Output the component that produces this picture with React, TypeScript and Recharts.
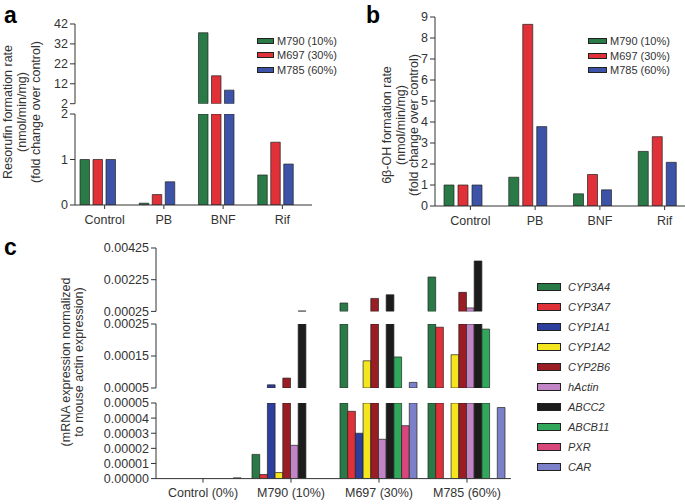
import { BarChart, Bar, XAxis, YAxis } from 'recharts'

const FONT = '"Liberation Sans", Arial, Helvetica, sans-serif'
const INK = '#333'

// panels a and b
const treatments = ['Control', 'PB', 'BNF', 'Rif']
const strainNames = ['M790 (10%)', 'M697 (30%)', 'M785 (60%)']
const strainColors = ['#2a7a48', '#e03038', '#3c53a8']

const resorufinM790 = [1, 0.04, 37.6, 0.66]
const resorufinM697 = [1, 0.23, 16, 1.38]
const resorufinM785 = [1, 0.51, 8.8, 0.9]

const hydroxyM790 = [1, 1.37, 0.58, 2.6]
const hydroxyM697 = [1, 8.65, 1.5, 3.3]
const hydroxyM785 = [1, 3.78, 0.77, 2.08]

// panel c
const mouseGroups = ['Control (0%)', 'M790 (10%)', 'M697 (30%)', 'M785 (60%)']
const genes = ['CYP3A4', 'CYP3A7', 'CYP1A1', 'CYP1A2', 'CYP2B6', 'hActin', 'ABCC2', 'ABCB11', 'PXR', 'CAR']
const geneColors = ['#2a7a48', '#e03038', '#2c3f9c', '#f4e61e', '#9a1d24', '#c184c4', '#1c1c1c', '#30a75a', '#d9467c', '#7b80c8']

const cyp3a4 = [0, 0.000016, 0.00078, 0.00242]
const cyp3a7 = [0, 0.0000027, 0.0000445, 0.00024]
const cyp1a1 = [0, 0.00006, 0.00003, 0]
const cyp1a2 = [0, 0.000004, 0.000135, 0.000154]
const cyp2b6 = [0, 0.000081, 0.00107, 0.00145]
const hActin = [0, 0.000022, 0.000026, 0.00047]
const abcc2 = [0, 0.00028, 0.0013, 0.00343]
const abcb11 = [0, 0, 0.000147, 0.000234]
const pxr = [0, 0, 0.000035, 0]
const car = [0.0000005, 0, 0.0000675, 0.000047]

const geneValues = [cyp3a4, cyp3a7, cyp1a1, cyp1a2, cyp2b6, hActin, abcc2, abcb11, pxr, car]

type SegmentProps = {
  left: number
  top: number
  width: number
  height: number
  categories: string[]
  keys: string[]
  colors: string[]
  values: number[][]
  domain: [number, number]
  ticks: number[]
  format: (v: number) => string
  showX?: boolean
  barSize: number
  barGap: number
  padLeft?: number
}

// one piece of a broken axis: values are cut to the segment's range
function Segment(p: SegmentProps) {
  const axisW = 70
  const mt = 8
  const mb = p.showX ? 0 : 8
  const xh = p.showX ? 34 : 0
  const [lo, hi] = p.domain
  const data = p.categories.map((name, i) => {
    const row: Record<string, string | number | null> = { name }
    p.keys.forEach((k, s) => {
      const v = p.values[s] ? p.values[s][i] : null
      row[k] = v != null && v > lo ? Math.min(v, hi) : null
    })
    return row
  })
  return (
    <div style={{ position: 'absolute', left: p.left - axisW, top: p.top - mt }}>
      <BarChart
        width={axisW + p.width + 2}
        height={mt + p.height + xh + mb}
        data={data}
        margin={{ top: mt, right: 2, left: 0, bottom: mb }}
        barSize={p.barSize}
        barGap={p.barGap}
      >
        <XAxis
          dataKey="name"
          hide={!p.showX}
          height={xh}
          interval={0}
          padding={{ left: p.padLeft ?? 0, right: 0 }}
          axisLine={{ stroke: INK }}
          tickLine={{ stroke: INK }}
          tickSize={4}
          tickMargin={6}
          tick={{ fill: INK, fontSize: 12.5, fontFamily: FONT }}
        />
        <YAxis
          type="number"
          width={axisW}
          domain={p.domain}
          ticks={p.ticks}
          interval={0}
          allowDataOverflow
          tickFormatter={p.format}
          axisLine={{ stroke: INK }}
          tickLine={{ stroke: INK }}
          tickSize={5}
          tickMargin={2}
          tick={{ fill: INK, fontSize: 12.5, fontFamily: FONT }}
        />
        {p.keys.map((k, s) => (
          <Bar
            key={k}
            dataKey={k}
            fill={p.colors[s] ?? 'none'}
            stroke="#222"
            strokeWidth={0.7}
            isAnimationActive={false}
          />
        ))}
      </BarChart>
    </div>
  )
}

function AxisTitle({ cx, cy, lines, lineHeight }: { cx: number; cy: number; lines: string[]; lineHeight: number }) {
  return (
    <div
      style={{
        position: 'absolute',
        left: cx,
        top: cy,
        transform: 'translate(-50%, -50%) rotate(-90deg)',
        whiteSpace: 'nowrap',
        textAlign: 'center',
        fontSize: 12.5,
        lineHeight: `${lineHeight}px`,
        color: INK,
      }}
    >
      {lines.map((l) => (
        <div key={l}>{l}</div>
      ))}
    </div>
  )
}

function SwatchLegend({ left, top, names, colors, sw, sh, gap, step, italic }: {
  left: number; top: number; names: string[]; colors: string[]; sw: number; sh: number; gap: number; step: number; italic?: boolean
}) {
  return (
    <div style={{ position: 'absolute', left, top }}>
      {names.map((n, i) => (
        <div key={n} style={{ position: 'absolute', left: 0, top: i * step - 7, height: 14, display: 'flex', alignItems: 'center', whiteSpace: 'nowrap' }}>
          <div style={{ width: sw, height: sh, background: colors[i], border: '1px solid #222', boxSizing: 'border-box' }} />
          <span style={{ marginLeft: gap, fontSize: 11, color: INK, fontStyle: italic ? 'italic' : 'normal' }}>{n}</span>
        </div>
      ))}
    </div>
  )
}

const strainKeys = ['m790', 'm697', 'm785', 'pad']
const intFmt = (v: number) => String(v)
const fineFmt = (v: number) => v.toFixed(5)

export default function App() {
  const resorufin = [resorufinM790, resorufinM697, resorufinM785]
  const hydroxy = [hydroxyM790, hydroxyM697, hydroxyM785]
  const panelA = { categories: treatments, keys: strainKeys, colors: strainColors, values: resorufin, barSize: 9.5, barGap: 3.5, left: 75, width: 237 }
  const panelB = { categories: treatments, keys: strainKeys, colors: strainColors, values: hydroxy, barSize: 10, barGap: 4, left: 435, width: 262, padLeft: 3 }
  const panelC = { categories: mouseGroups, keys: genes, colors: geneColors, values: geneValues, barSize: 7.7, barGap: 0, left: 156, width: 355, padLeft: 3 }

  return (
    <div style={{ position: 'absolute', left: 0, top: 0, width: 685, height: 504, overflow: 'hidden', background: '#fff', fontFamily: FONT }}>
      <div style={{ position: 'absolute', left: 4, top: 2, fontSize: 23, fontWeight: 'bold' }}>a</div>
      <div style={{ position: 'absolute', left: 366, top: 2, fontSize: 23, fontWeight: 'bold' }}>b</div>
      <div style={{ position: 'absolute', left: 4, top: 234, fontSize: 23, fontWeight: 'bold' }}>c</div>

      {/* a: resorufin, broken axis */}
      <Segment {...panelA} top={24.3} height={79.7} domain={[2, 42]} ticks={[2, 12, 22, 32, 42]} format={intFmt} />
      <Segment {...panelA} top={114} height={91} domain={[0, 2]} ticks={[0, 1, 2]} format={intFmt} showX />
      <AxisTitle cx={22} cy={112} lineHeight={14} lines={['Resorufin formation rate', '(nmol/min/mg)', '(fold change over control)']} />
      <SwatchLegend left={257} top={40.5} names={strainNames} colors={strainColors} sw={17} sh={6} gap={3} step={14.8} />

      {/* b: 6beta-OH */}
      <Segment {...panelB} top={16.7} height={189} domain={[0, 9]} ticks={[0, 1, 2, 3, 4, 5, 6, 7, 8, 9]} format={intFmt} showX />
      <AxisTitle cx={401} cy={125} lineHeight={13.5} lines={['6β-OH formation rate', '(nmol/min/mg)', '(fold change over control)']} />
      <SwatchLegend left={588} top={41} names={strainNames} colors={strainColors} sw={19} sh={6} gap={3} step={14.6} />

      {/* c: mRNA expression, three-part axis */}
      <Segment {...panelC} top={248.3} height={63.4} domain={[0.00025, 0.00425]} ticks={[0.00025, 0.00225, 0.00425]} format={fineFmt} />
      <Segment {...panelC} top={324.3} height={64} domain={[0.00005, 0.00025]} ticks={[0.00005, 0.00015, 0.00025]} format={fineFmt} />
      <Segment {...panelC} top={402.7} height={75.6} domain={[0, 0.00005]} ticks={[0, 0.00001, 0.00002, 0.00003, 0.00004, 0.00005]} format={fineFmt} showX />
      <AxisTitle cx={73} cy={362} lineHeight={13} lines={['(mRNA expression normalized', 'to mouse actin expression)']} />
      <SwatchLegend left={537} top={286.7} names={genes} colors={geneColors} sw={24} sh={8} gap={7} step={20} italic />
    </div>
  )
}
